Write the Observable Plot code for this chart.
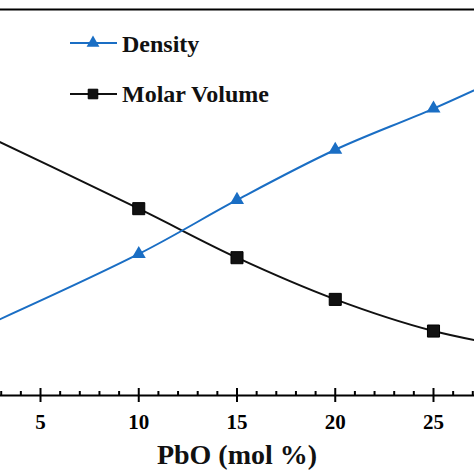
<!DOCTYPE html>
<html>
<head>
<meta charset="utf-8">
<script src="https://cdn.jsdelivr.net/npm/d3@7"></script>
<script src="https://cdn.jsdelivr.net/npm/@observablehq/plot@0.6"></script>
<style>
  html, body { margin: 0; padding: 0; background: #fff; }
  #chart { width: 474px; height: 474px; }
</style>
</head>
<body>
<div id="chart"></div>
<script>
// PbO content (mol %) and the two measured properties
const pbo = [0, 10, 15, 20, 25, 30];
const density = [2.39, 3.10, 3.52, 3.91, 4.23, 4.58];          // g/cm³
const molarVolume = [29.28, 26.84, 25.57, 24.49, 23.67, 23.17]; // cm³/mol

// hidden left (density) and right (molar volume) axis ranges
const densityAxis = [2, 5];
const volumeAxis = [22, 32];

// x axis
const xView = [2.964, 27.087];
const xTicks = [5, 10, 15, 20, 25];
const minorTicks = [3, 4, 6, 7, 8, 9, 11, 12, 13, 14, 16, 17, 18, 19, 21, 22, 23, 24, 26, 27];
const axisTitle = "PbO (mol %)";
const seriesNames = ["Density", "Molar Volume"];

const W = 474, H = 474, mt = 9, mb = 79;
const innerH = H - mt - mb;
const blue = "#1a6ec4";
const ink = "#111";
const serif = "'Liberation Serif', 'Times New Roman', serif";

// molar volume is drawn against its own (right-hand) axis, mapped onto the density scale
const volToDensity = d3.scaleLinear(volumeAxis, densityAxis);
const rows = pbo.map((x, i) => ({x, d: density[i], v: volToDensity(molarVolume[i])}));

const chart = Plot.plot({
  width: W,
  height: H,
  marginTop: mt,
  marginBottom: mb,
  marginLeft: 0,
  marginRight: 0,
  x: {domain: xView},
  y: {domain: densityAxis, axis: null},
  style: {fontFamily: serif, background: "white", color: "black"},
  marks: [
    Plot.ruleY([densityAxis[1]], {stroke: "black", strokeWidth: 2.2}),
    Plot.ruleY([densityAxis[0]], {stroke: "black", strokeWidth: 2}),
    Plot.tickX(xTicks, {x: d => d, insetTop: innerH - 7, insetBottom: -7, stroke: "black", strokeWidth: 2}),
    Plot.tickX(minorTicks, {x: d => d, insetTop: innerH - 4, stroke: "black", strokeWidth: 2}),
    Plot.axisX(xTicks, {tickSize: 0, tickPadding: 19, fontSize: 21, fontWeight: "bold", label: null}),
    Plot.line(rows, {x: "x", y: "v", curve: "catmull-rom", stroke: ink, strokeWidth: 2, clip: true}),
    Plot.line(rows, {x: "x", y: "d", curve: "catmull-rom", stroke: blue, strokeWidth: 2, clip: true}),
    Plot.dot(rows, {x: "x", y: "v", symbol: "square", r: 6.8, fill: ink, stroke: "#000", strokeWidth: 1, clip: true}),
    Plot.dot(rows, {x: "x", y: "d", symbol: "triangle", r: 5.2, fill: blue, clip: true})
  ]
});

// legend and axis title
const svg = d3.select(chart);
const legend = [
  {name: seriesNames[0], color: blue, symbol: d3.symbolTriangle, size: 72, y: 43, base: 51.7},
  {name: seriesNames[1], color: ink, symbol: d3.symbolSquare, size: 92, y: 94, base: 101.5}
];
const lg = svg.append("g").attr("text-anchor", "start");
legend.forEach(e => {
  lg.append("line").attr("x1", 70).attr("x2", 117).attr("y1", e.y).attr("y2", e.y)
    .attr("stroke", e.color).attr("stroke-width", 2);
  lg.append("path").attr("d", d3.symbol(e.symbol, e.size)())
    .attr("transform", `translate(93,${e.y})`).attr("fill", e.color)
    .attr("stroke", e.color === ink ? "#000" : "none");
  lg.append("text").attr("x", 122).attr("y", e.base).text(e.name)
    .attr("text-anchor", "start")
    .attr("font-family", serif).attr("font-weight", "bold").attr("font-size", 24).attr("fill", "#111");
});
svg.append("text").attr("x", 237).attr("y", 464).attr("text-anchor", "middle")
  .attr("font-family", serif).attr("font-weight", "bold").attr("font-size", 28).attr("fill", "#111")
  .text(axisTitle);

document.getElementById("chart").appendChild(chart);
</script>
</body>
</html>
